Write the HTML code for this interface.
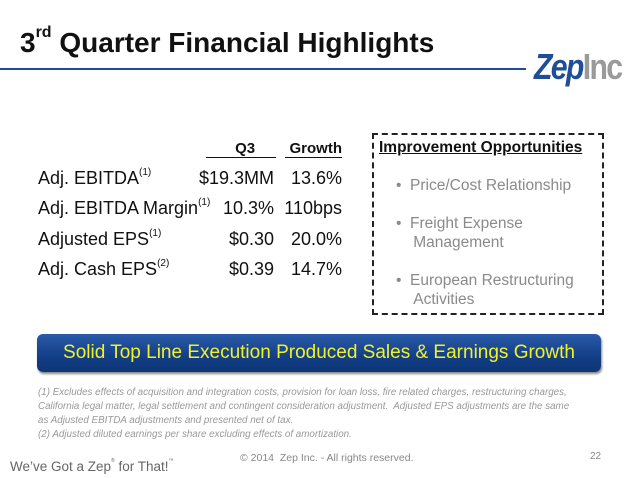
<!DOCTYPE html>
<html><head><meta charset="utf-8"><style>
body{margin:0;width:638px;height:478px;background:#fff;position:relative;overflow:hidden;font-family:"Liberation Sans",sans-serif}
.a{position:absolute;white-space:nowrap}
.row{font-size:18px;color:#111}
sup{font-size:10px;vertical-align:top;position:relative;top:-1px}
.r{text-align:right}
.fn{font-size:9.8px;font-style:italic;color:#999;line-height:14px;left:38px;top:386px}
</style></head><body>
<div class="a" style="left:20px;top:27px;font-size:28px;font-weight:bold;color:#111">3<sup style="font-size:16px;top:-3px">rd</sup> Quarter Financial Highlights</div>
<div class="a" style="left:0;top:68px;width:526px;height:2px;background:#1f4e96"></div>
<div class="a" style="left:534px;top:46px;font-size:36px;font-weight:bold;letter-spacing:-2px;transform:scaleX(0.84);transform-origin:left"><span style="color:#1f4e96;font-style:italic">Zep</span><span style="color:#9a9a9a">Inc</span></div>

<div class="a row" style="left:206px;top:140px;width:70px;text-align:right;font-size:15px;font-weight:bold;border-bottom:1.5px solid #111;line-height:17px">Q3&nbsp;&nbsp;&nbsp;&nbsp;&nbsp;</div>
<div class="a row" style="left:285px;top:140px;width:57px;text-align:right;font-size:15px;font-weight:bold;border-bottom:1.5px solid #111;line-height:17px">Growth</div>

<div class="a row" style="left:38px;top:168px">Adj. EBITDA<sup>(1)</sup></div>
<div class="a row r" style="right:364px;top:168px">$19.3MM</div>
<div class="a row r" style="right:296px;top:168px">13.6%</div>

<div class="a row" style="left:38px;top:198px">Adj. EBITDA Margin<sup>(1)</sup></div>
<div class="a row r" style="right:364px;top:198px">10.3%</div>
<div class="a row r" style="right:296px;top:198px">110bps</div>

<div class="a row" style="left:38px;top:229px">Adjusted EPS<sup>(1)</sup></div>
<div class="a row r" style="right:364px;top:229px">$0.30</div>
<div class="a row r" style="right:296px;top:229px">20.0%</div>

<div class="a row" style="left:38px;top:259px">Adj. Cash EPS<sup>(2)</sup></div>
<div class="a row r" style="right:364px;top:259px">$0.39</div>
<div class="a row r" style="right:296px;top:259px">14.7%</div>

<div class="a" style="left:372px;top:133px;width:228px;height:178px;border:2px dashed #222"></div>
<div class="a" style="left:379px;top:139px;font-size:15.5px;font-weight:bold;text-decoration:underline;color:#111">Improvement Opportunities</div>
<div class="a" style="left:396px;top:176px;font-size:15.5px;color:#8a8a8a;line-height:19px">
<div>•&nbsp;&nbsp;Price/Cost Relationship</div>
<div style="margin-top:19px">•&nbsp;&nbsp;Freight Expense<br>&nbsp;&nbsp;&nbsp;&nbsp;Management</div>
<div style="margin-top:19px">•&nbsp;&nbsp;European Restructuring<br>&nbsp;&nbsp;&nbsp;&nbsp;Activities</div>
</div>

<div class="a" style="left:37px;top:334px;width:564px;height:38px;border-radius:6px;background:linear-gradient(#2a5aa8,#123e86 60%,#0e3577);box-shadow:1px 2px 2px #888;color:#f2f22a;font-size:19px;line-height:38px;text-align:center">Solid Top Line Execution Produced Sales &amp; Earnings Growth</div>

<div class="a fn">(1) Excludes effects of acquisition and integration costs, provision for loan loss, fire related charges, restructuring charges,<br>California legal matter, legal settlement and contingent consideration adjustment.&nbsp; Adjusted EPS adjustments are the same<br>as Adjusted EBITDA adjustments and presented net of tax.<br>(2) Adjusted diluted earnings per share excluding effects of amortization.</div>

<div class="a" style="left:10px;top:459px;font-size:13.5px;color:#666">We’ve Got a Zep<sup style="font-size:5px">®</sup> for That!<sup style="font-size:5px">™</sup></div>
<div class="a" style="left:240px;top:452px;font-size:10.5px;color:#888">© 2014&nbsp; Zep Inc. - All rights reserved.</div>
<div class="a" style="left:590px;top:451px;font-size:10px;color:#888">22</div>
</body></html>
